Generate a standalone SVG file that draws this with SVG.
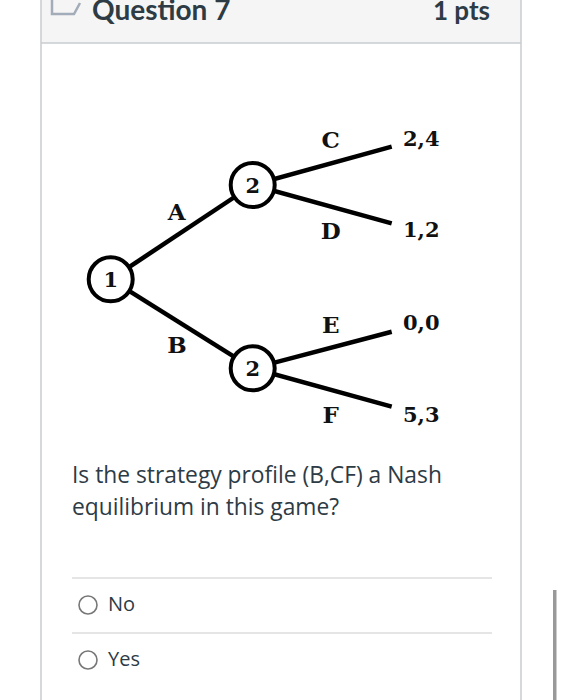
<svg xmlns="http://www.w3.org/2000/svg" width="562" height="700" viewBox="0 0 562 700">
<style>
.edge{stroke:#000;stroke-width:4.5;fill:none}
.node{fill:#fff;stroke:#000;stroke-width:4}
.lbl{font-family:"DejaVu Serif","Liberation Serif",serif;font-weight:bold;font-size:21px;fill:#111}
.big{font-size:23px}
.nl{text-anchor:middle}
.ui{font-family:"Open Sans","Noto Sans",sans-serif;fill:#2d3b45}
.hd{font-family:"Lato","Roboto",sans-serif;font-weight:700;font-style:normal;fill:#2d3b45}
.sep{stroke:#ddd;stroke-width:1.5}
.radio{fill:#fff;stroke:#777;stroke-width:1.6}
</style>
<rect x="0" y="0" width="562" height="700" fill="#fff"/>
<g id="panel">
<rect x="41" y="0" width="480" height="43" fill="#f5f5f5"/>
<line x1="41" y1="43" x2="521" y2="43" stroke="#c7cdd1" stroke-width="1.5"/>
<line x1="41" y1="0" x2="41" y2="700" stroke="#c7cdd1" stroke-width="1.5"/>
<line x1="521" y1="0" x2="521" y2="700" stroke="#c7cdd1" stroke-width="1.5"/>
<path d="M52,0 V14 H74 L80,3" fill="none" stroke="#a3acb9" stroke-width="2.5"/>
<text class="hd" x="92" y="20" font-size="28">Question 7</text>
<text class="hd" x="490" y="20" font-size="26" text-anchor="end" fill="#555">1 pts</text>
</g>
<g id="connectors">
<line class="edge" x1="110.7" y1="279.3" x2="252.7" y2="185"/>
<line class="edge" x1="110.7" y1="279.3" x2="252.7" y2="368.3"/>
<line class="edge" x1="252.7" y1="185" x2="391.7" y2="146.7"/>
<line class="edge" x1="252.7" y1="185" x2="391.7" y2="223.3"/>
<line class="edge" x1="252.7" y1="368.3" x2="391.7" y2="331.7"/>
<line class="edge" x1="252.7" y1="368.3" x2="391.7" y2="406.7"/>
<text class="lbl big nl" x="176.7" y="220">A</text>
<text class="lbl big nl" x="177" y="353">B</text>
<text class="lbl big nl" x="330.7" y="148">C</text>
<text class="lbl big nl" x="330.7" y="239">D</text>
<text class="lbl big nl" x="330.7" y="333">E</text>
<text class="lbl big nl" x="330.7" y="423">F</text>
</g>
<g id="n1"><circle class="node" cx="110.7" cy="279.3" r="22"/><text class="lbl nl" x="110.7" y="287">1</text></g>
<g id="n2a"><circle class="node" cx="252.7" cy="185" r="22"/><text class="lbl nl" x="252.7" y="193">2</text></g>
<g id="n2b"><circle class="node" cx="252.7" cy="368.3" r="22"/><text class="lbl nl" x="252.7" y="376">2</text></g>
<g id="p1"><text class="lbl" x="403" y="146">2,4</text></g>
<g id="p2"><text class="lbl" x="403" y="237">1,2</text></g>
<g id="p3"><text class="lbl" x="403" y="330">0,0</text></g>
<g id="p4"><text class="lbl" x="403" y="422">5,3</text></g>
<g id="question">
<text class="ui" x="72" y="483" font-size="22.8">Is the strategy profile (B,CF) a Nash</text>
<text class="ui" x="72" y="515" font-size="22.8">equilibrium in this game?</text>
<line class="sep" x1="72" y1="578" x2="492" y2="578"/>
<line class="sep" x1="72" y1="633" x2="492" y2="633"/>
<circle class="radio" cx="88" cy="605" r="9"/>
<text class="ui" x="108" y="611" font-size="20">No</text>
<circle class="radio" cx="88" cy="660" r="9"/>
<text class="ui" x="108" y="666" font-size="20">Yes</text>
</g>
<rect x="553" y="590" width="3.5" height="110" fill="#999"/>
</svg>
